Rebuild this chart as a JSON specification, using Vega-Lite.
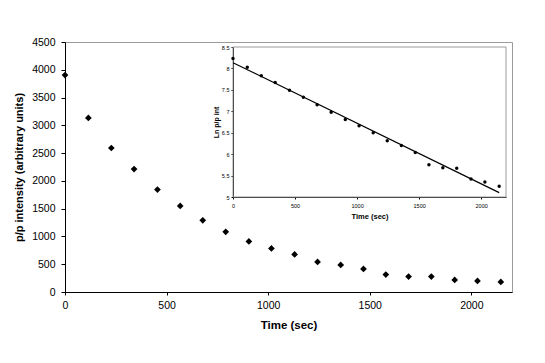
{
  "$schema": "https://vega.github.io/schema/vega-lite/v6.json",
  "width": 447,
  "height": 250,
  "autosize": {"type": "none"},
  "padding": {"left": 65, "top": 42, "right": 33, "bottom": 71},
  "background": "#ffffff",
  "config": {
    "view": {"stroke": "#9a9a9a", "strokeWidth": 1},
    "font": "Liberation Sans",
    "axis": {
      "grid": false,
      "labelOverlap": false,
      "labelFlush": false,
      "domainColor": "#000000",
      "tickColor": "#000000",
      "labelColor": "#000000",
      "titleColor": "#000000",
      "labelFont": "Liberation Sans",
      "titleFont": "Liberation Sans"
    }
  },
  "data": {
    "values": [
      {"time": 0, "intensity": 3904, "ln": 8.23},
      {"time": 115, "intensity": 3134, "ln": 8.03},
      {"time": 228, "intensity": 2592, "ln": 7.83},
      {"time": 340, "intensity": 2212, "ln": 7.67},
      {"time": 455, "intensity": 1843, "ln": 7.49},
      {"time": 567, "intensity": 1549, "ln": 7.33},
      {"time": 678, "intensity": 1290, "ln": 7.15},
      {"time": 791, "intensity": 1084, "ln": 6.98},
      {"time": 905, "intensity": 911, "ln": 6.81},
      {"time": 1016, "intensity": 784, "ln": 6.66},
      {"time": 1130, "intensity": 676, "ln": 6.5},
      {"time": 1243, "intensity": 542, "ln": 6.31},
      {"time": 1357, "intensity": 488, "ln": 6.2},
      {"time": 1469, "intensity": 416, "ln": 6.04},
      {"time": 1579, "intensity": 314, "ln": 5.75},
      {"time": 1691, "intensity": 278, "ln": 5.68},
      {"time": 1803, "intensity": 278, "ln": 5.67},
      {"time": 1918, "intensity": 217, "ln": 5.42},
      {"time": 2030, "intensity": 199, "ln": 5.35},
      {"time": 2145, "intensity": 181, "ln": 5.25}
    ]
  },
  "layer": [
    {
      "mark": {"type": "point", "shape": "diamond", "filled": true, "color": "#000000", "size": 45, "opacity": 1},
      "encoding": {
        "x": {
          "field": "time", "type": "quantitative",
          "scale": {"domain": [0, 2200], "nice": false},
          "axis": {"values": [0, 500, 1000, 1500, 2000], "format": "d", "title": "Time (sec)", "labelFontSize": 10.5, "titleFontSize": 11.5, "titleFontWeight": "bold", "tickSize": 3, "labelPadding": 5, "titlePadding": 9}
        },
        "y": {
          "field": "intensity", "type": "quantitative",
          "scale": {"domain": [0, 4500], "nice": false},
          "axis": {"values": [0, 500, 1000, 1500, 2000, 2500, 3000, 3500, 4000, 4500], "format": "d", "title": "p/p intensity (arbitrary units)", "labelFontSize": 10.5, "titleFontSize": 11, "titleFontWeight": "bold", "tickSize": 4, "labelPadding": 6, "titlePadding": 7}
        }
      }
    },
    {
      "layer": [
        {
          "data": {"values": [{"box": "inset"}]},
          "mark": {"type": "rect", "filled": false, "stroke": "#9a9a9a", "strokeWidth": 1},
          "encoding": {
            "x": {"datum": 0, "type": "quantitative", "scale": {"domain": [0, 2200], "range": [168, 441], "nice": false}, "axis": {"orient": "bottom", "offset": -95, "values": [0, 500, 1000, 1500, 2000], "format": "d", "title": "Time (sec)", "labelFontSize": 5.5, "titleFontSize": 7.5, "titleFontWeight": "bold", "tickSize": 2, "labelPadding": 4, "titlePadding": 4, "labelOverlap": false}},
            "x2": {"datum": 2200},
            "y": {"datum": 5, "type": "quantitative", "scale": {"domain": [5, 8.5], "range": [155, 5], "nice": false, "zero": false}, "axis": {"orient": "left", "offset": -168, "values": [5, 5.5, 6, 6.5, 7, 7.5, 8, 8.5], "format": ".2~f", "title": "Ln p/p int", "labelFontSize": 5.5, "titleFontSize": 7, "titleFontWeight": "bold", "tickSize": 2, "labelPadding": 2, "titlePadding": 2, "labelOverlap": false}},
            "y2": {"datum": 8.5}
          }
        },
        {
          "transform": [{"regression": "ln", "on": "time"}],
          "mark": {"type": "line", "color": "#000000", "strokeWidth": 1.2},
          "encoding": {
            "x": {"field": "time", "type": "quantitative", "scale": {"domain": [0, 2200], "range": [168, 441], "nice": false}, "axis": {"orient": "bottom", "offset": -95, "values": [0, 500, 1000, 1500, 2000], "format": "d", "title": "Time (sec)", "labelFontSize": 5.5, "titleFontSize": 7.5, "titleFontWeight": "bold", "tickSize": 2, "labelPadding": 4, "titlePadding": 4, "labelOverlap": false}},
            "y": {"field": "ln", "type": "quantitative", "scale": {"domain": [5, 8.5], "range": [155, 5], "nice": false, "zero": false}, "axis": {"orient": "left", "offset": -168, "values": [5, 5.5, 6, 6.5, 7, 7.5, 8, 8.5], "format": ".2~f", "title": "Ln p/p int", "labelFontSize": 5.5, "titleFontSize": 7, "titleFontWeight": "bold", "tickSize": 2, "labelPadding": 2, "titlePadding": 2, "labelOverlap": false}}
          }
        },
        {
          "mark": {"type": "circle", "color": "#000000", "size": 12, "opacity": 1},
          "encoding": {
            "x": {"field": "time", "type": "quantitative", "scale": {"domain": [0, 2200], "range": [168, 441], "nice": false}, "axis": {"orient": "bottom", "offset": -95, "values": [0, 500, 1000, 1500, 2000], "format": "d", "title": "Time (sec)", "labelFontSize": 5.5, "titleFontSize": 7.5, "titleFontWeight": "bold", "tickSize": 2, "labelPadding": 4, "titlePadding": 4, "labelOverlap": false}},
            "y": {"field": "ln", "type": "quantitative", "scale": {"domain": [5, 8.5], "range": [155, 5], "nice": false, "zero": false}, "axis": {"orient": "left", "offset": -168, "values": [5, 5.5, 6, 6.5, 7, 7.5, 8, 8.5], "format": ".2~f", "title": "Ln p/p int", "labelFontSize": 5.5, "titleFontSize": 7, "titleFontWeight": "bold", "tickSize": 2, "labelPadding": 2, "titlePadding": 2, "labelOverlap": false}}
          }
        }
      ]
    }
  ],
  "resolve": {"scale": {"x": "independent", "y": "independent"}, "axis": {"x": "independent", "y": "independent"}}
}
